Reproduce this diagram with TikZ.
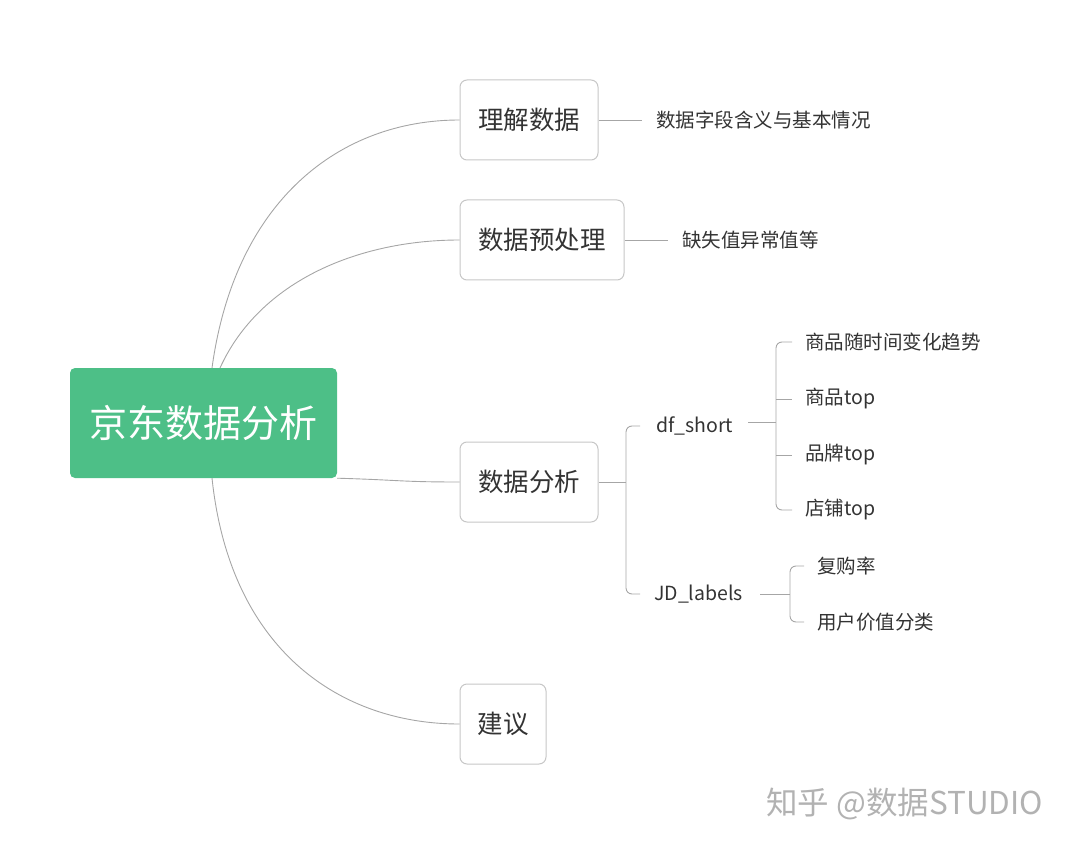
\documentclass[tikz,border=0pt]{standalone}
\usepackage{fontspec}
\setmainfont{Noto Sans CJK SC}
\begin{document}
\begin{tikzpicture}[x=1pt,y=-1pt,
  ln/.style={draw=black!35,line width=0.9pt},
  box/.style={draw=black!22,line width=1pt,rounded corners=7pt,fill=white,inner sep=0pt,font=\fontsize{25.5}{30}\selectfont,text=black!80},
  lab/.style={anchor=west,inner sep=0pt,font=\fontsize{19.5}{23}\selectfont,text=black!80}]
\useasboundingbox (0,0) rectangle (1076,850);
\definecolor{grn}{HTML}{4DBF87}
\node[fill=grn,rounded corners=5pt,minimum width=267pt,minimum height=110pt,inner sep=0pt,text=white,font=\fontsize{38}{44}\selectfont] (root) at (203.5,423) {京东数据分析};
\node[box,minimum width=138pt,minimum height=80pt] (a) at (529,120) {理解数据};
\node[box,minimum width=164pt,minimum height=80pt] (b) at (542,240) {数据预处理};
\node[box,minimum width=138pt,minimum height=80pt] (c) at (529,482) {数据分析};
\node[box,minimum width=86pt,minimum height=80pt] (d) at (503,724) {建议};
\coordinate (r1) at (212,368); \coordinate (r2) at (220,368);
\coordinate (r4) at (212,478);
\draw[ln] (r1) .. controls (235,200) and (340,120) .. (a.west);
\draw[ln] (r2) .. controls (260,280) and (360,240) .. (b.west);
\draw[ln] (root.south east) .. controls (400,480) and (400,482) .. (c.west);
\draw[ln] (r4) .. controls (230,650) and (340,724) .. (d.west);
\node[lab] (a1) at (656,120) {数据字段含义与基本情况};
\node[lab] (b1) at (682,240) {缺失值异常值等};
\draw[ln] (a.east) -- (a1.west -| 642,0);
\draw[ln] (b.east) -- (b1.west -| 668,0);
\node[lab] (s) at (656,426) {df\_short};
\node[lab] (j) at (654,594) {JD\_labels};
\coordinate (cb) at (626,482);
\draw[ln] (c.east) -- (cb);
\draw[ln,rounded corners=6pt] (640,426) -- (626,426) -- (626,594) -- (640,594);
\node[lab] (s1) at (805,342) {商品随时间变化趋势};
\node[lab] (s2) at (805,399) {商品top};
\node[lab] (s3) at (805,455) {品牌top};
\node[lab] (s4) at (805,510) {店铺top};
\coordinate (sb) at (776,422);
\draw[ln] (748,422) -- (sb);
\draw[ln,rounded corners=6pt] (792,342) -- (776,342) -- (776,510) -- (792,510);
\draw[ln] (776,399) -- (792,399);
\draw[ln] (776,455) -- (792,455);
\node[lab] (j1) at (817,566) {复购率};
\node[lab] (j2) at (817,622) {用户价值分类};
\coordinate (jb) at (790,594);
\draw[ln] (760,594) -- (jb);
\draw[ln,rounded corners=6pt] (804,566) -- (790,566) -- (790,622) -- (804,622);
\node[anchor=west,inner sep=0pt,font=\fontsize{31.5}{36}\selectfont,text=black!30] (wm) at (766,804) {知乎 @数据STUDIO};
\end{tikzpicture}
\end{document}
